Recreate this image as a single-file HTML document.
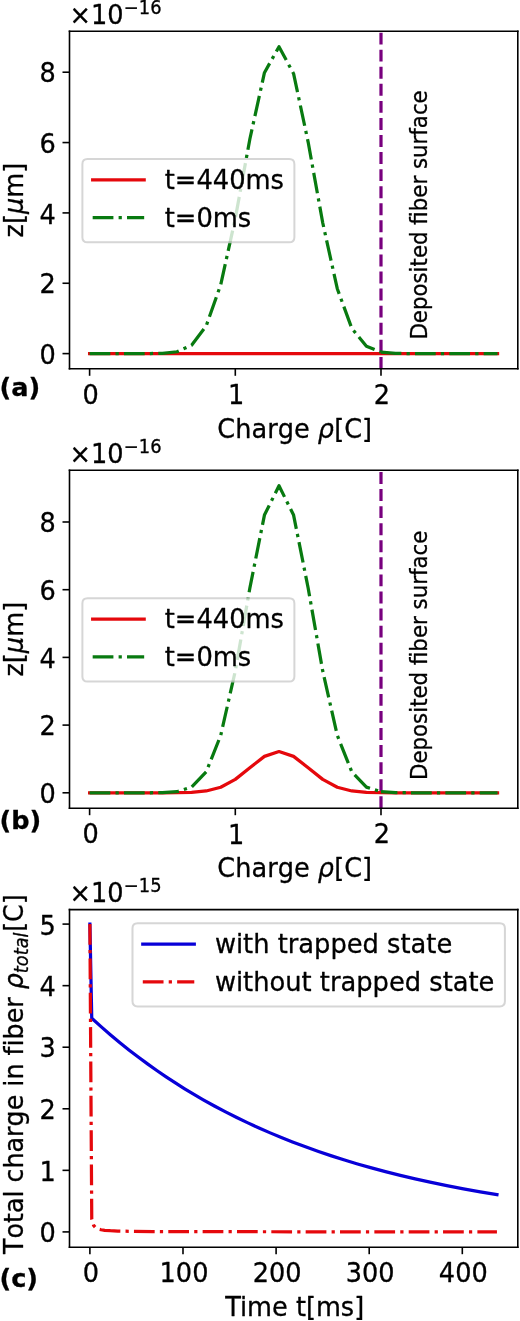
<!DOCTYPE html>
<html><head><meta charset="utf-8"><style>
html,body{margin:0;padding:0;background:#fff;}
body{width:520px;height:1321px;overflow:hidden;}
svg{display:block;}
</style></head><body>
<svg width="520" height="1321" viewBox="0 0 520 1321">
<defs>
<style type="text/css">text{stroke:#000;stroke-width:0.3px;stroke-linejoin:round}*{stroke-linejoin: round; stroke-linecap: butt}</style>
</defs>
<g id="figure_1">
<g id="patch_1">
<path d="M 0 1321 
L 520 1321 
L 520 0 
L 0 0 
z
" style="fill: #ffffff"/>
</g>
<g id="axes_1">
<g id="patch_2">
<path d="M 69.5 368.8 
L 517.8 368.8 
L 517.8 31.2 
L 69.5 31.2 
z
" style="fill: #ffffff"/>
</g>
<g id="matplotlib.axis_1">
<g id="xtick_1">
<g id="line2d_1">
<g>
<path d="M 0 0 
L 0 7 
" transform="translate(89.605752 368.8)" style="stroke: #000000; stroke-width: 1.6"/>
</g>
</g>
<g id="text_1">
<g transform="translate(82.413752 404.252) scale(1 1.06)">
<text>
<tspan x="0" y="-0.703125" style="font-size: 25.6px; font-family: 'DejaVu Sans', 'Liberation Sans', sans-serif">0</tspan>
</text>
</g>
</g>
</g>
<g id="xtick_2">
<g id="line2d_2">
<g>
<path d="M 0 0 
L 0 7 
" transform="translate(235.29961 368.8)" style="stroke: #000000; stroke-width: 1.6"/>
</g>
</g>
<g id="text_2">
<g transform="translate(228.10761 404.252) scale(1 1.06)">
<text>
<tspan x="0" y="-0.046875" style="font-size: 25.6px; font-family: 'DejaVu Sans', 'Liberation Sans', sans-serif">1</tspan>
</text>
</g>
</g>
</g>
<g id="xtick_3">
<g id="line2d_3">
<g>
<path d="M 0 0 
L 0 7 
" transform="translate(380.993468 368.8)" style="stroke: #000000; stroke-width: 1.6"/>
</g>
</g>
<g id="text_3">
<g transform="translate(373.801468 404.252) scale(1 1.06)">
<text>
<tspan x="0" y="-0.703125" style="font-size: 25.6px; font-family: 'DejaVu Sans', 'Liberation Sans', sans-serif">2</tspan>
</text>
</g>
</g>
</g>
<g id="text_4">
<g transform="translate(217.338 438.032) scale(1 1.06)">
<text>
<tspan x="0" y="-0.25" style="font-size: 25.6px; font-family: 'DejaVu Sans', 'Liberation Sans', sans-serif">C</tspan>
<tspan x="17.892456" y="-0.25" style="font-size: 25.6px; font-family: 'DejaVu Sans', 'Liberation Sans', sans-serif">h</tspan>
<tspan x="34.133301" y="-0.25" style="font-size: 25.6px; font-family: 'DejaVu Sans', 'Liberation Sans', sans-serif">a</tspan>
<tspan x="49.836121" y="-0.25" style="font-size: 25.6px; font-family: 'DejaVu Sans', 'Liberation Sans', sans-serif">r</tspan>
<tspan x="60.371399" y="-0.25" style="font-size: 25.6px; font-family: 'DejaVu Sans', 'Liberation Sans', sans-serif">g</tspan>
<tspan x="76.637268" y="-0.25" style="font-size: 25.6px; font-family: 'DejaVu Sans', 'Liberation Sans', sans-serif">e</tspan>
<tspan x="92.402649" y="-0.25" style="font-size: 25.6px; font-family: 'DejaVu Sans', 'Liberation Sans', sans-serif"> </tspan>
<tspan x="116.813965" y="-0.25" style="font-size: 25.6px; font-family: 'DejaVu Sans', 'Liberation Sans', sans-serif">[</tspan>
<tspan x="126.811218" y="-0.25" style="font-size: 25.6px; font-family: 'DejaVu Sans', 'Liberation Sans', sans-serif">C</tspan>
<tspan x="144.703674" y="-0.25" style="font-size: 25.6px; font-family: 'DejaVu Sans', 'Liberation Sans', sans-serif">]</tspan>
<tspan x="100.548096" y="-0.25" style="font-style: oblique; font-size: 25.6px; font-family: 'DejaVu Sans', 'Liberation Sans', sans-serif">ρ</tspan>
</text>
</g>
</g>
</g>
<g id="matplotlib.axis_2">
<g id="ytick_1">
<g id="line2d_4">
<g>
<path d="M 0 0 
L -7 0 
" transform="translate(69.5 353.604834)" style="stroke: #000000; stroke-width: 1.6"/>
</g>
</g>
<g id="text_5">
<g transform="translate(39.616 364.330834) scale(1 1.06)">
<text>
<tspan x="0" y="-0.703125" style="font-size: 25.6px; font-family: 'DejaVu Sans', 'Liberation Sans', sans-serif">0</tspan>
</text>
</g>
</g>
</g>
<g id="ytick_2">
<g id="line2d_5">
<g>
<path d="M 0 0 
L -7 0 
" transform="translate(69.5 283.256845)" style="stroke: #000000; stroke-width: 1.6"/>
</g>
</g>
<g id="text_6">
<g transform="translate(39.616 293.982845) scale(1 1.06)">
<text>
<tspan x="0" y="-0.703125" style="font-size: 25.6px; font-family: 'DejaVu Sans', 'Liberation Sans', sans-serif">2</tspan>
</text>
</g>
</g>
</g>
<g id="ytick_3">
<g id="line2d_6">
<g>
<path d="M 0 0 
L -7 0 
" transform="translate(69.5 212.908856)" style="stroke: #000000; stroke-width: 1.6"/>
</g>
</g>
<g id="text_7">
<g transform="translate(39.616 223.634856) scale(1 1.06)">
<text>
<tspan x="0" y="-0.046875" style="font-size: 25.6px; font-family: 'DejaVu Sans', 'Liberation Sans', sans-serif">4</tspan>
</text>
</g>
</g>
</g>
<g id="ytick_4">
<g id="line2d_7">
<g>
<path d="M 0 0 
L -7 0 
" transform="translate(69.5 142.560867)" style="stroke: #000000; stroke-width: 1.6"/>
</g>
</g>
<g id="text_8">
<g transform="translate(39.616 153.286867) scale(1 1.06)">
<text>
<tspan x="0" y="-0.703125" style="font-size: 25.6px; font-family: 'DejaVu Sans', 'Liberation Sans', sans-serif">6</tspan>
</text>
</g>
</g>
</g>
<g id="ytick_5">
<g id="line2d_8">
<g>
<path d="M 0 0 
L -7 0 
" transform="translate(69.5 72.212878)" style="stroke: #000000; stroke-width: 1.6"/>
</g>
</g>
<g id="text_9">
<g transform="translate(39.616 82.938878) scale(1 1.06)">
<text>
<tspan x="0" y="-0.703125" style="font-size: 25.6px; font-family: 'DejaVu Sans', 'Liberation Sans', sans-serif">8</tspan>
</text>
</g>
</g>
</g>
<g id="text_10">
<g transform="translate(23.24 237.376) rotate(-90) scale(1 1.06)">
<text>
<tspan x="0" y="-0.25" style="font-size: 25.6px; font-family: 'DejaVu Sans', 'Liberation Sans', sans-serif">z</tspan>
<tspan x="13.450623" y="-0.25" style="font-size: 25.6px; font-family: 'DejaVu Sans', 'Liberation Sans', sans-serif">[</tspan>
<tspan x="39.751282" y="-0.25" style="font-size: 25.6px; font-family: 'DejaVu Sans', 'Liberation Sans', sans-serif">m</tspan>
<tspan x="64.713135" y="-0.25" style="font-size: 25.6px; font-family: 'DejaVu Sans', 'Liberation Sans', sans-serif">]</tspan>
<tspan x="23.447876" y="-0.25" style="font-style: oblique; font-size: 25.6px; font-family: 'DejaVu Sans', 'Liberation Sans', sans-serif">μ</tspan>
</text>
</g>
</g>
<g id="text_11">
<g transform="translate(69.5 24.7) scale(1 1.06)">
<text>
<tspan x="0" y="-0.539062" style="font-size: 25.6px; font-family: 'DejaVu Sans', 'Liberation Sans', sans-serif">×</tspan>
<tspan x="21.470947" y="-0.539062" style="font-size: 25.6px; font-family: 'DejaVu Sans', 'Liberation Sans', sans-serif">1</tspan>
<tspan x="37.774353" y="-0.539062" style="font-size: 25.6px; font-family: 'DejaVu Sans', 'Liberation Sans', sans-serif">0</tspan>
<tspan x="54.326587" y="-10.492188" style="font-size: 17.92px; font-family: 'DejaVu Sans', 'Liberation Sans', sans-serif">−</tspan>
<tspan x="69.35625" y="-10.492188" style="font-size: 17.92px; font-family: 'DejaVu Sans', 'Liberation Sans', sans-serif">1</tspan>
<tspan x="80.768634" y="-10.492188" style="font-size: 17.92px; font-family: 'DejaVu Sans', 'Liberation Sans', sans-serif">6</tspan>
</text>
</g>
</g>
</g>
<g id="line2d_9">
<path d="M 380.993468 368.8 
L 380.993468 31.2 
" clip-path="url(#p6809639586)" style="fill: none; stroke-dasharray: 11.914,5.152; stroke-dashoffset: 0; stroke: #78007e; stroke-width: 3.22"/>
</g>
<g id="line2d_10">
<path d="M 89.605752 353.604834 
L 104.175138 353.604834 
L 118.744524 353.604834 
L 133.31391 353.604834 
L 147.883295 353.604834 
L 162.452681 353.604834 
L 177.022067 353.604834 
L 191.591453 353.604834 
L 206.160838 353.604834 
L 220.730224 353.604834 
L 235.29961 353.604834 
L 249.868996 353.604834 
L 264.438382 353.604834 
L 279.007767 353.604834 
L 293.577153 353.604834 
L 308.146539 353.604834 
L 322.715925 353.604834 
L 337.28531 353.604834 
L 351.854696 353.604834 
L 366.424082 353.604834 
L 380.993468 353.604834 
L 395.562853 353.604834 
L 410.132239 353.604834 
L 424.701625 353.604834 
L 439.271011 353.604834 
L 453.840396 353.604834 
L 468.409782 353.604834 
L 482.979168 353.604834 
L 497.548554 353.604834 
" clip-path="url(#p6809639586)" style="fill: none; stroke: #e5080c; stroke-width: 3.24; stroke-linecap: square"/>
</g>
<g id="line2d_11">
<path d="M 89.605752 353.604834 
L 104.175138 353.604833 
L 118.744524 353.604776 
L 133.31391 353.603128 
L 147.883295 353.576627 
L 162.452681 353.321034 
L 177.022067 351.746519 
L 191.591453 345.20245 
L 206.160838 325.98941 
L 220.730224 284.703504 
L 235.29961 218.378424 
L 249.868996 138.992032 
L 264.438382 72.684678 
L 279.007767 46.711732 
L 293.577153 73.676582 
L 308.146539 142.040544 
L 322.715925 222.739537 
L 337.28531 288.699973 
L 351.854696 328.525367 
L 366.424082 346.328726 
L 380.993468 352.089862 
" clip-path="url(#p6809639586)" style="fill: none; stroke-dasharray: 20.736,5.184,3.24,5.184; stroke-dashoffset: 0; stroke: #087a10; stroke-width: 3.24"/>
</g>
<g id="line2d_12">
<path d="M 380.993468 352.089862 
L 395.562853 353.390222 
L 410.132239 353.585385 
L 424.701625 353.603783 
L 439.271011 353.604803 
L 453.840396 353.604834 
L 468.409782 353.604834 
L 482.979168 353.604834 
L 497.548554 353.604834 
" clip-path="url(#p6809639586)" style="fill: none; stroke-dasharray: 20.736,5.184,3.24,5.184; stroke-dashoffset: 0.3; stroke: #087a10; stroke-width: 3.24"/>
</g>
<g id="patch_3">
<path d="M 69.5 368.8 
L 69.5 31.2 
" style="fill: none; stroke: #000000; stroke-width: 1.6; stroke-linejoin: miter; stroke-linecap: square"/>
</g>
<g id="patch_4">
<path d="M 517.8 368.8 
L 517.8 31.2 
" style="fill: none; stroke: #000000; stroke-width: 1.6; stroke-linejoin: miter; stroke-linecap: square"/>
</g>
<g id="patch_5">
<path d="M 69.5 368.8 
L 517.8 368.8 
" style="fill: none; stroke: #000000; stroke-width: 1.6; stroke-linejoin: miter; stroke-linecap: square"/>
</g>
<g id="patch_6">
<path d="M 69.5 31.2 
L 517.8 31.2 
" style="fill: none; stroke: #000000; stroke-width: 1.6; stroke-linejoin: miter; stroke-linecap: square"/>
</g>
<g id="legend_1" transform="translate(0 0.7)">
<g id="patch_7">
<path d="M 87.525 241.658672 
L 289.244063 241.658672 
Q 294.394063 241.658672 294.394063 236.508672 
L 294.394063 163.491328 
Q 294.394063 158.341328 289.244063 158.341328 
L 87.525 158.341328 
Q 82.375 158.341328 82.375 163.491328 
L 82.375 236.508672 
Q 82.375 241.658672 87.525 241.658672 
z
" style="fill: #ffffff; opacity: 0.8; stroke: #cccccc; stroke-width: 2; stroke-linejoin: miter"/>
</g>
<g id="line2d_13">
<path d="M 92.675 179.194805 
L 118.425 179.194805 
L 144.175 179.194805 
" style="fill: none; stroke: #e5080c; stroke-width: 3.24; stroke-linecap: square"/>
</g>
<g id="text_12">
<text style="font-size: 25.75px; font-family: 'DejaVu Sans', 'Liberation Sans', sans-serif; text-anchor: start" x="164.775" y="188.207305" transform="rotate(-0 164.775 188.207305) translate(164.775 188.207305) scale(1 1.06) translate(-164.775 -188.207305)">t=440ms</text>
</g>
<g id="line2d_14">
<path d="M 92.675 216.990977 
L 118.425 216.990977 
L 144.175 216.990977 
" style="fill: none; stroke-dasharray: 20.736,5.184,3.24,5.184; stroke-dashoffset: 0; stroke: #087a10; stroke-width: 3.24"/>
</g>
<g id="text_13">
<text style="font-size: 25.75px; font-family: 'DejaVu Sans', 'Liberation Sans', sans-serif; text-anchor: start" x="164.775" y="226.003477" transform="rotate(-0 164.775 226.003477) translate(164.775 226.003477) scale(1 1.06) translate(-164.775 -226.003477)">t=0ms</text>
</g>
</g>
</g>
<g id="axes_2">
<g id="patch_8">
<path d="M 69.5 808.2 
L 517.8 808.2 
L 517.8 470.2 
L 69.5 470.2 
z
" style="fill: #ffffff"/>
</g>
<g id="matplotlib.axis_3">
<g id="xtick_4">
<g id="line2d_15">
<g>
<path d="M 0 0 
L 0 7 
" transform="translate(89.605752 808.2)" style="stroke: #000000; stroke-width: 1.6"/>
</g>
</g>
<g id="text_14">
<g transform="translate(82.413752 843.652) scale(1 1.06)">
<text>
<tspan x="0" y="-0.703125" style="font-size: 25.6px; font-family: 'DejaVu Sans', 'Liberation Sans', sans-serif">0</tspan>
</text>
</g>
</g>
</g>
<g id="xtick_5">
<g id="line2d_16">
<g>
<path d="M 0 0 
L 0 7 
" transform="translate(235.29961 808.2)" style="stroke: #000000; stroke-width: 1.6"/>
</g>
</g>
<g id="text_15">
<g transform="translate(228.10761 843.652) scale(1 1.06)">
<text>
<tspan x="0" y="-0.046875" style="font-size: 25.6px; font-family: 'DejaVu Sans', 'Liberation Sans', sans-serif">1</tspan>
</text>
</g>
</g>
</g>
<g id="xtick_6">
<g id="line2d_17">
<g>
<path d="M 0 0 
L 0 7 
" transform="translate(380.993468 808.2)" style="stroke: #000000; stroke-width: 1.6"/>
</g>
</g>
<g id="text_16">
<g transform="translate(373.801468 843.652) scale(1 1.06)">
<text>
<tspan x="0" y="-0.703125" style="font-size: 25.6px; font-family: 'DejaVu Sans', 'Liberation Sans', sans-serif">2</tspan>
</text>
</g>
</g>
</g>
<g id="text_17">
<g transform="translate(217.338 877.432) scale(1 1.06)">
<text>
<tspan x="0" y="-0.25" style="font-size: 25.6px; font-family: 'DejaVu Sans', 'Liberation Sans', sans-serif">C</tspan>
<tspan x="17.892456" y="-0.25" style="font-size: 25.6px; font-family: 'DejaVu Sans', 'Liberation Sans', sans-serif">h</tspan>
<tspan x="34.133301" y="-0.25" style="font-size: 25.6px; font-family: 'DejaVu Sans', 'Liberation Sans', sans-serif">a</tspan>
<tspan x="49.836121" y="-0.25" style="font-size: 25.6px; font-family: 'DejaVu Sans', 'Liberation Sans', sans-serif">r</tspan>
<tspan x="60.371399" y="-0.25" style="font-size: 25.6px; font-family: 'DejaVu Sans', 'Liberation Sans', sans-serif">g</tspan>
<tspan x="76.637268" y="-0.25" style="font-size: 25.6px; font-family: 'DejaVu Sans', 'Liberation Sans', sans-serif">e</tspan>
<tspan x="92.402649" y="-0.25" style="font-size: 25.6px; font-family: 'DejaVu Sans', 'Liberation Sans', sans-serif"> </tspan>
<tspan x="116.813965" y="-0.25" style="font-size: 25.6px; font-family: 'DejaVu Sans', 'Liberation Sans', sans-serif">[</tspan>
<tspan x="126.811218" y="-0.25" style="font-size: 25.6px; font-family: 'DejaVu Sans', 'Liberation Sans', sans-serif">C</tspan>
<tspan x="144.703674" y="-0.25" style="font-size: 25.6px; font-family: 'DejaVu Sans', 'Liberation Sans', sans-serif">]</tspan>
<tspan x="100.548096" y="-0.25" style="font-style: oblique; font-size: 25.6px; font-family: 'DejaVu Sans', 'Liberation Sans', sans-serif">ρ</tspan>
</text>
</g>
</g>
</g>
<g id="matplotlib.axis_4">
<g id="ytick_6">
<g id="line2d_18">
<g>
<path d="M 0 0 
L -7 0 
" transform="translate(69.5 792.797897)" style="stroke: #000000; stroke-width: 1.6"/>
</g>
</g>
<g id="text_18">
<g transform="translate(39.616 803.523897) scale(1 1.06)">
<text>
<tspan x="0" y="-0.703125" style="font-size: 25.6px; font-family: 'DejaVu Sans', 'Liberation Sans', sans-serif">0</tspan>
</text>
</g>
</g>
</g>
<g id="ytick_7">
<g id="line2d_19">
<g>
<path d="M 0 0 
L -7 0 
" transform="translate(69.5 725.096345)" style="stroke: #000000; stroke-width: 1.6"/>
</g>
</g>
<g id="text_19">
<g transform="translate(39.616 735.822345) scale(1 1.06)">
<text>
<tspan x="0" y="-0.703125" style="font-size: 25.6px; font-family: 'DejaVu Sans', 'Liberation Sans', sans-serif">2</tspan>
</text>
</g>
</g>
</g>
<g id="ytick_8">
<g id="line2d_20">
<g>
<path d="M 0 0 
L -7 0 
" transform="translate(69.5 657.394792)" style="stroke: #000000; stroke-width: 1.6"/>
</g>
</g>
<g id="text_20">
<g transform="translate(39.616 668.120792) scale(1 1.06)">
<text>
<tspan x="0" y="-0.046875" style="font-size: 25.6px; font-family: 'DejaVu Sans', 'Liberation Sans', sans-serif">4</tspan>
</text>
</g>
</g>
</g>
<g id="ytick_9">
<g id="line2d_21">
<g>
<path d="M 0 0 
L -7 0 
" transform="translate(69.5 589.69324)" style="stroke: #000000; stroke-width: 1.6"/>
</g>
</g>
<g id="text_21">
<g transform="translate(39.616 600.41924) scale(1 1.06)">
<text>
<tspan x="0" y="-0.703125" style="font-size: 25.6px; font-family: 'DejaVu Sans', 'Liberation Sans', sans-serif">6</tspan>
</text>
</g>
</g>
</g>
<g id="ytick_10">
<g id="line2d_22">
<g>
<path d="M 0 0 
L -7 0 
" transform="translate(69.5 521.991688)" style="stroke: #000000; stroke-width: 1.6"/>
</g>
</g>
<g id="text_22">
<g transform="translate(39.616 532.717688) scale(1 1.06)">
<text>
<tspan x="0" y="-0.703125" style="font-size: 25.6px; font-family: 'DejaVu Sans', 'Liberation Sans', sans-serif">8</tspan>
</text>
</g>
</g>
</g>
<g id="text_23">
<g transform="translate(23.24 676.576) rotate(-90) scale(1 1.06)">
<text>
<tspan x="0" y="-0.25" style="font-size: 25.6px; font-family: 'DejaVu Sans', 'Liberation Sans', sans-serif">z</tspan>
<tspan x="13.450623" y="-0.25" style="font-size: 25.6px; font-family: 'DejaVu Sans', 'Liberation Sans', sans-serif">[</tspan>
<tspan x="39.751282" y="-0.25" style="font-size: 25.6px; font-family: 'DejaVu Sans', 'Liberation Sans', sans-serif">m</tspan>
<tspan x="64.713135" y="-0.25" style="font-size: 25.6px; font-family: 'DejaVu Sans', 'Liberation Sans', sans-serif">]</tspan>
<tspan x="23.447876" y="-0.25" style="font-style: oblique; font-size: 25.6px; font-family: 'DejaVu Sans', 'Liberation Sans', sans-serif">μ</tspan>
</text>
</g>
</g>
<g id="text_24">
<g transform="translate(69.5 463.7) scale(1 1.06)">
<text>
<tspan x="0" y="-0.539062" style="font-size: 25.6px; font-family: 'DejaVu Sans', 'Liberation Sans', sans-serif">×</tspan>
<tspan x="21.470947" y="-0.539062" style="font-size: 25.6px; font-family: 'DejaVu Sans', 'Liberation Sans', sans-serif">1</tspan>
<tspan x="37.774353" y="-0.539062" style="font-size: 25.6px; font-family: 'DejaVu Sans', 'Liberation Sans', sans-serif">0</tspan>
<tspan x="54.326587" y="-10.492188" style="font-size: 17.92px; font-family: 'DejaVu Sans', 'Liberation Sans', sans-serif">−</tspan>
<tspan x="69.35625" y="-10.492188" style="font-size: 17.92px; font-family: 'DejaVu Sans', 'Liberation Sans', sans-serif">1</tspan>
<tspan x="80.768634" y="-10.492188" style="font-size: 17.92px; font-family: 'DejaVu Sans', 'Liberation Sans', sans-serif">6</tspan>
</text>
</g>
</g>
</g>
<g id="line2d_23">
<path d="M 380.993468 808.2 
L 380.993468 470.2 
" clip-path="url(#p0fc9390d3e)" style="fill: none; stroke-dasharray: 11.914,5.152; stroke-dashoffset: 0; stroke: #78007e; stroke-width: 3.22"/>
</g>
<g id="line2d_24">
<path d="M 89.605752 792.797897 
L 104.175138 792.797896 
L 118.744524 792.797886 
L 133.31391 792.797743 
L 147.883295 792.796242 
L 162.452681 792.784043 
L 177.022067 792.707558 
L 191.591453 792.339118 
L 206.160838 790.983392 
L 220.730224 787.208828 
L 235.29961 779.390416 
L 249.868996 767.749426 
L 264.438382 756.352587 
L 279.007767 751.49995 
L 293.577153 756.352587 
L 308.146539 767.749426 
L 322.715925 779.390416 
L 337.28531 787.208828 
L 351.854696 790.983392 
L 366.424082 792.339118 
L 380.993468 792.707558 
L 395.562853 792.784043 
L 410.132239 792.796242 
L 424.701625 792.797743 
L 439.271011 792.797886 
L 453.840396 792.797896 
L 468.409782 792.797897 
L 482.979168 792.797897 
L 497.548554 792.797897 
" clip-path="url(#p0fc9390d3e)" style="fill: none; stroke: #e5080c; stroke-width: 3.24; stroke-linecap: square"/>
</g>
<g id="line2d_25">
<path d="M 89.605752 792.797897 
L 104.175138 792.797897 
L 118.744524 792.797876 
L 133.31391 792.797203 
L 147.883295 792.784878 
L 162.452681 792.648607 
L 177.022067 791.68537 
L 191.591453 787.111174 
L 206.160838 771.904479 
L 220.730224 735.392737 
L 235.29961 670.966976 
L 249.868996 587.977354 
L 264.438382 515.072126 
L 279.007767 485.771357 
L 293.577153 515.072126 
L 308.146539 587.977354 
L 322.715925 670.966976 
L 337.28531 735.392737 
L 351.854696 771.904479 
L 366.424082 787.111174 
L 380.993468 791.68537 
" clip-path="url(#p0fc9390d3e)" style="fill: none; stroke-dasharray: 20.736,5.184,3.24,5.184; stroke-dashoffset: 0; stroke: #087a10; stroke-width: 3.24"/>
</g>
<g id="line2d_26">
<path d="M 380.993468 791.68537 
L 395.562853 792.648607 
L 410.132239 792.784878 
L 424.701625 792.797203 
L 439.271011 792.797876 
L 453.840396 792.797897 
L 468.409782 792.797897 
L 482.979168 792.797897 
L 497.548554 792.797897 
" clip-path="url(#p0fc9390d3e)" style="fill: none; stroke-dasharray: 20.736,5.184,3.24,5.184; stroke-dashoffset: 4.3; stroke: #087a10; stroke-width: 3.24"/>
</g>
<g id="patch_9">
<path d="M 69.5 808.2 
L 69.5 470.2 
" style="fill: none; stroke: #000000; stroke-width: 1.6; stroke-linejoin: miter; stroke-linecap: square"/>
</g>
<g id="patch_10">
<path d="M 517.8 808.2 
L 517.8 470.2 
" style="fill: none; stroke: #000000; stroke-width: 1.6; stroke-linejoin: miter; stroke-linecap: square"/>
</g>
<g id="patch_11">
<path d="M 69.5 808.2 
L 517.8 808.2 
" style="fill: none; stroke: #000000; stroke-width: 1.6; stroke-linejoin: miter; stroke-linecap: square"/>
</g>
<g id="patch_12">
<path d="M 69.5 470.2 
L 517.8 470.2 
" style="fill: none; stroke: #000000; stroke-width: 1.6; stroke-linejoin: miter; stroke-linecap: square"/>
</g>
<g id="legend_2" transform="translate(0 0.7)">
<g id="patch_13">
<path d="M 87.525 680.858672 
L 289.244063 680.858672 
Q 294.394063 680.858672 294.394063 675.708672 
L 294.394063 602.691328 
Q 294.394063 597.541328 289.244063 597.541328 
L 87.525 597.541328 
Q 82.375 597.541328 82.375 602.691328 
L 82.375 675.708672 
Q 82.375 680.858672 87.525 680.858672 
z
" style="fill: #ffffff; opacity: 0.8; stroke: #cccccc; stroke-width: 2; stroke-linejoin: miter"/>
</g>
<g id="line2d_27">
<path d="M 92.675 618.394805 
L 118.425 618.394805 
L 144.175 618.394805 
" style="fill: none; stroke: #e5080c; stroke-width: 3.24; stroke-linecap: square"/>
</g>
<g id="text_25">
<text style="font-size: 25.75px; font-family: 'DejaVu Sans', 'Liberation Sans', sans-serif; text-anchor: start" x="164.775" y="627.407305" transform="rotate(-0 164.775 627.407305) translate(164.775 627.407305) scale(1 1.06) translate(-164.775 -627.407305)">t=440ms</text>
</g>
<g id="line2d_28">
<path d="M 92.675 656.190977 
L 118.425 656.190977 
L 144.175 656.190977 
" style="fill: none; stroke-dasharray: 20.736,5.184,3.24,5.184; stroke-dashoffset: 0; stroke: #087a10; stroke-width: 3.24"/>
</g>
<g id="text_26">
<text style="font-size: 25.75px; font-family: 'DejaVu Sans', 'Liberation Sans', sans-serif; text-anchor: start" x="164.775" y="665.203477" transform="rotate(-0 164.775 665.203477) translate(164.775 665.203477) scale(1 1.06) translate(-164.775 -665.203477)">t=0ms</text>
</g>
</g>
</g>
<g id="axes_3">
<g id="patch_14">
<path d="M 69.5 1247.2 
L 517.8 1247.2 
L 517.8 909.6 
L 69.5 909.6 
z
" style="fill: #ffffff"/>
</g>
<g id="matplotlib.axis_5">
<g id="xtick_7">
<g id="line2d_29">
<g>
<path d="M 0 0 
L 0 7 
" transform="translate(89.889969 1247.2)" style="stroke: #000000; stroke-width: 1.6"/>
</g>
</g>
<g id="text_27">
<g transform="translate(82.697969 1282.652) scale(1 1.06)">
<text>
<tspan x="0" y="-0.703125" style="font-size: 25.6px; font-family: 'DejaVu Sans', 'Liberation Sans', sans-serif">0</tspan>
</text>
</g>
</g>
</g>
<g id="xtick_8">
<g id="line2d_30">
<g>
<path d="M 0 0 
L 0 7 
" transform="translate(182.994849 1247.2)" style="stroke: #000000; stroke-width: 1.6"/>
</g>
</g>
<g id="text_28">
<g transform="translate(159.546849 1282.652) scale(1 1.06)">
<text>
<tspan x="0" y="-0.703125" style="font-size: 25.6px; font-family: 'DejaVu Sans', 'Liberation Sans', sans-serif">1</tspan>
<tspan x="16.303406" y="-0.703125" style="font-size: 25.6px; font-family: 'DejaVu Sans', 'Liberation Sans', sans-serif">0</tspan>
<tspan x="32.606812" y="-0.703125" style="font-size: 25.6px; font-family: 'DejaVu Sans', 'Liberation Sans', sans-serif">0</tspan>
</text>
</g>
</g>
</g>
<g id="xtick_9">
<g id="line2d_31">
<g>
<path d="M 0 0 
L 0 7 
" transform="translate(276.09973 1247.2)" style="stroke: #000000; stroke-width: 1.6"/>
</g>
</g>
<g id="text_29">
<g transform="translate(252.65173 1282.652) scale(1 1.06)">
<text>
<tspan x="0" y="-0.703125" style="font-size: 25.6px; font-family: 'DejaVu Sans', 'Liberation Sans', sans-serif">2</tspan>
<tspan x="16.303406" y="-0.703125" style="font-size: 25.6px; font-family: 'DejaVu Sans', 'Liberation Sans', sans-serif">0</tspan>
<tspan x="32.606812" y="-0.703125" style="font-size: 25.6px; font-family: 'DejaVu Sans', 'Liberation Sans', sans-serif">0</tspan>
</text>
</g>
</g>
</g>
<g id="xtick_10">
<g id="line2d_32">
<g>
<path d="M 0 0 
L 0 7 
" transform="translate(369.204611 1247.2)" style="stroke: #000000; stroke-width: 1.6"/>
</g>
</g>
<g id="text_30">
<g transform="translate(345.756611 1282.652) scale(1 1.06)">
<text>
<tspan x="0" y="-0.703125" style="font-size: 25.6px; font-family: 'DejaVu Sans', 'Liberation Sans', sans-serif">3</tspan>
<tspan x="16.303406" y="-0.703125" style="font-size: 25.6px; font-family: 'DejaVu Sans', 'Liberation Sans', sans-serif">0</tspan>
<tspan x="32.606812" y="-0.703125" style="font-size: 25.6px; font-family: 'DejaVu Sans', 'Liberation Sans', sans-serif">0</tspan>
</text>
</g>
</g>
</g>
<g id="xtick_11">
<g id="line2d_33">
<g>
<path d="M 0 0 
L 0 7 
" transform="translate(462.309491 1247.2)" style="stroke: #000000; stroke-width: 1.6"/>
</g>
</g>
<g id="text_31">
<g transform="translate(438.861491 1282.652) scale(1 1.06)">
<text>
<tspan x="0" y="-0.703125" style="font-size: 25.6px; font-family: 'DejaVu Sans', 'Liberation Sans', sans-serif">4</tspan>
<tspan x="16.303406" y="-0.703125" style="font-size: 25.6px; font-family: 'DejaVu Sans', 'Liberation Sans', sans-serif">0</tspan>
<tspan x="32.606812" y="-0.703125" style="font-size: 25.6px; font-family: 'DejaVu Sans', 'Liberation Sans', sans-serif">0</tspan>
</text>
</g>
</g>
</g>
<g id="text_32">
<text style="font-size: 25.6px; font-family: 'DejaVu Sans', 'Liberation Sans', sans-serif; text-anchor: middle" x="294.65" y="1316.428" transform="rotate(-0 294.65 1316.428) translate(294.65 1316.428) scale(1 1.06) translate(-294.65 -1316.428)">Time t[ms]</text>
</g>
</g>
<g id="matplotlib.axis_6">
<g id="ytick_11">
<g id="line2d_34">
<g>
<path d="M 0 0 
L -7 0 
" transform="translate(69.5 1231.902115)" style="stroke: #000000; stroke-width: 1.6"/>
</g>
</g>
<g id="text_33">
<g transform="translate(39.616 1242.628115) scale(1 1.06)">
<text>
<tspan x="0" y="-0.703125" style="font-size: 25.6px; font-family: 'DejaVu Sans', 'Liberation Sans', sans-serif">0</tspan>
</text>
</g>
</g>
</g>
<g id="ytick_12">
<g id="line2d_35">
<g>
<path d="M 0 0 
L -7 0 
" transform="translate(69.5 1170.341211)" style="stroke: #000000; stroke-width: 1.6"/>
</g>
</g>
<g id="text_34">
<g transform="translate(39.616 1181.067211) scale(1 1.06)">
<text>
<tspan x="0" y="-0.046875" style="font-size: 25.6px; font-family: 'DejaVu Sans', 'Liberation Sans', sans-serif">1</tspan>
</text>
</g>
</g>
</g>
<g id="ytick_13">
<g id="line2d_36">
<g>
<path d="M 0 0 
L -7 0 
" transform="translate(69.5 1108.780306)" style="stroke: #000000; stroke-width: 1.6"/>
</g>
</g>
<g id="text_35">
<g transform="translate(39.616 1119.506306) scale(1 1.06)">
<text>
<tspan x="0" y="-0.703125" style="font-size: 25.6px; font-family: 'DejaVu Sans', 'Liberation Sans', sans-serif">2</tspan>
</text>
</g>
</g>
</g>
<g id="ytick_14">
<g id="line2d_37">
<g>
<path d="M 0 0 
L -7 0 
" transform="translate(69.5 1047.219402)" style="stroke: #000000; stroke-width: 1.6"/>
</g>
</g>
<g id="text_36">
<g transform="translate(39.616 1057.945402) scale(1 1.06)">
<text>
<tspan x="0" y="-0.703125" style="font-size: 25.6px; font-family: 'DejaVu Sans', 'Liberation Sans', sans-serif">3</tspan>
</text>
</g>
</g>
</g>
<g id="ytick_15">
<g id="line2d_38">
<g>
<path d="M 0 0 
L -7 0 
" transform="translate(69.5 985.658497)" style="stroke: #000000; stroke-width: 1.6"/>
</g>
</g>
<g id="text_37">
<g transform="translate(39.616 996.384497) scale(1 1.06)">
<text>
<tspan x="0" y="-0.046875" style="font-size: 25.6px; font-family: 'DejaVu Sans', 'Liberation Sans', sans-serif">4</tspan>
</text>
</g>
</g>
</g>
<g id="ytick_16">
<g id="line2d_39">
<g>
<path d="M 0 0 
L -7 0 
" transform="translate(69.5 924.097593)" style="stroke: #000000; stroke-width: 1.6"/>
</g>
</g>
<g id="text_38">
<g transform="translate(39.616 934.823593) scale(1 1.06)">
<text>
<tspan x="0" y="-0.046875" style="font-size: 25.6px; font-family: 'DejaVu Sans', 'Liberation Sans', sans-serif">5</tspan>
</text>
</g>
</g>
</g>
<g id="text_39">
<g transform="translate(23.29376 1254.08896) rotate(-90) scale(1 1.06)">
<text>
<tspan x="0" y="-0" style="font-size: 25.344px; font-family: 'DejaVu Sans', 'Liberation Sans', sans-serif">T</tspan>
<tspan x="15.500061" y="-0" style="font-size: 25.344px; font-family: 'DejaVu Sans', 'Liberation Sans', sans-serif">o</tspan>
<tspan x="31.024902" y="-0" style="font-size: 25.344px; font-family: 'DejaVu Sans', 'Liberation Sans', sans-serif">t</tspan>
<tspan x="40.974182" y="-0" style="font-size: 25.344px; font-family: 'DejaVu Sans', 'Liberation Sans', sans-serif">a</tspan>
<tspan x="56.523804" y="-0" style="font-size: 25.344px; font-family: 'DejaVu Sans', 'Liberation Sans', sans-serif">l</tspan>
<tspan x="63.573792" y="-0" style="font-size: 25.344px; font-family: 'DejaVu Sans', 'Liberation Sans', sans-serif"> </tspan>
<tspan x="71.639771" y="-0" style="font-size: 25.344px; font-family: 'DejaVu Sans', 'Liberation Sans', sans-serif">c</tspan>
<tspan x="85.591064" y="-0" style="font-size: 25.344px; font-family: 'DejaVu Sans', 'Liberation Sans', sans-serif">h</tspan>
<tspan x="101.673462" y="-0" style="font-size: 25.344px; font-family: 'DejaVu Sans', 'Liberation Sans', sans-serif">a</tspan>
<tspan x="117.223083" y="-0" style="font-size: 25.344px; font-family: 'DejaVu Sans', 'Liberation Sans', sans-serif">r</tspan>
<tspan x="127.655579" y="-0" style="font-size: 25.344px; font-family: 'DejaVu Sans', 'Liberation Sans', sans-serif">g</tspan>
<tspan x="143.762756" y="-0" style="font-size: 25.344px; font-family: 'DejaVu Sans', 'Liberation Sans', sans-serif">e</tspan>
<tspan x="159.374329" y="-0" style="font-size: 25.344px; font-family: 'DejaVu Sans', 'Liberation Sans', sans-serif"> </tspan>
<tspan x="167.440308" y="-0" style="font-size: 25.344px; font-family: 'DejaVu Sans', 'Liberation Sans', sans-serif">i</tspan>
<tspan x="174.490295" y="-0" style="font-size: 25.344px; font-family: 'DejaVu Sans', 'Liberation Sans', sans-serif">n</tspan>
<tspan x="190.572693" y="-0" style="font-size: 25.344px; font-family: 'DejaVu Sans', 'Liberation Sans', sans-serif"> </tspan>
<tspan x="198.638672" y="-0" style="font-size: 25.344px; font-family: 'DejaVu Sans', 'Liberation Sans', sans-serif">f</tspan>
<tspan x="207.57196" y="-0" style="font-size: 25.344px; font-family: 'DejaVu Sans', 'Liberation Sans', sans-serif">i</tspan>
<tspan x="214.621948" y="-0" style="font-size: 25.344px; font-family: 'DejaVu Sans', 'Liberation Sans', sans-serif">b</tspan>
<tspan x="230.729126" y="-0" style="font-size: 25.344px; font-family: 'DejaVu Sans', 'Liberation Sans', sans-serif">e</tspan>
<tspan x="246.340698" y="-0" style="font-size: 25.344px; font-family: 'DejaVu Sans', 'Liberation Sans', sans-serif">r</tspan>
<tspan x="256.773193" y="-0" style="font-size: 25.344px; font-family: 'DejaVu Sans', 'Liberation Sans', sans-serif"> </tspan>
<tspan x="322.246051" y="-0" style="font-size: 25.344px; font-family: 'DejaVu Sans', 'Liberation Sans', sans-serif">[</tspan>
<tspan x="332.14577" y="-0" style="font-size: 25.344px; font-family: 'DejaVu Sans', 'Liberation Sans', sans-serif">C</tspan>
<tspan x="349.863666" y="-0" style="font-size: 25.344px; font-family: 'DejaVu Sans', 'Liberation Sans', sans-serif">]</tspan>
<tspan x="264.839172" y="-0" style="font-style: oblique; font-size: 25.344px; font-family: 'DejaVu Sans', 'Liberation Sans', sans-serif">ρ</tspan>
<tspan x="280.94635" y="4.101562" style="font-style: oblique; font-size: 17.7408px; font-family: 'DejaVu Sans', 'Liberation Sans', sans-serif">t</tspan>
<tspan x="287.910846" y="4.101562" style="font-style: oblique; font-size: 17.7408px; font-family: 'DejaVu Sans', 'Liberation Sans', sans-serif">o</tspan>
<tspan x="298.778235" y="4.101562" style="font-style: oblique; font-size: 17.7408px; font-family: 'DejaVu Sans', 'Liberation Sans', sans-serif">t</tspan>
<tspan x="305.742731" y="4.101562" style="font-style: oblique; font-size: 17.7408px; font-family: 'DejaVu Sans', 'Liberation Sans', sans-serif">a</tspan>
<tspan x="316.627466" y="4.101562" style="font-style: oblique; font-size: 17.7408px; font-family: 'DejaVu Sans', 'Liberation Sans', sans-serif">l</tspan>
</text>
</g>
</g>
<g id="text_40">
<g transform="translate(69.5 903.1) scale(1 1.06)">
<text>
<tspan x="0" y="-0.779688" style="font-size: 25.6px; font-family: 'DejaVu Sans', 'Liberation Sans', sans-serif">×</tspan>
<tspan x="21.470947" y="-0.779688" style="font-size: 25.6px; font-family: 'DejaVu Sans', 'Liberation Sans', sans-serif">1</tspan>
<tspan x="37.774353" y="-0.779688" style="font-size: 25.6px; font-family: 'DejaVu Sans', 'Liberation Sans', sans-serif">0</tspan>
<tspan x="54.326587" y="-10.732813" style="font-size: 17.92px; font-family: 'DejaVu Sans', 'Liberation Sans', sans-serif">−</tspan>
<tspan x="69.35625" y="-10.732813" style="font-size: 17.92px; font-family: 'DejaVu Sans', 'Liberation Sans', sans-serif">1</tspan>
<tspan x="80.768634" y="-10.732813" style="font-size: 17.92px; font-family: 'DejaVu Sans', 'Liberation Sans', sans-serif">5</tspan>
</text>
</g>
</g>
</g>
<g id="line2d_40">
<path d="M 89.889969 924.097593 
L 91.748665 1018.282647 
L 101.042148 1026.6668 
L 110.335631 1034.721892 
L 119.629113 1042.460837 
L 128.922596 1049.896043 
L 138.216078 1057.039432 
L 147.509561 1063.902457 
L 156.803044 1070.49612 
L 166.096526 1076.830996 
L 175.390009 1082.917239 
L 184.683491 1088.764609 
L 193.976974 1094.382481 
L 203.270457 1099.779863 
L 214.422636 1105.977833 
L 225.574815 1111.885052 
L 236.726994 1117.515157 
L 247.879173 1122.88115 
L 259.031352 1127.995419 
L 270.183531 1132.869773 
L 281.33571 1137.515467 
L 292.48789 1141.943227 
L 305.498765 1146.847116 
L 318.509641 1151.483681 
L 331.520516 1155.867496 
L 344.531392 1160.012337 
L 357.542268 1163.931233 
L 370.553143 1167.636499 
L 385.422716 1171.624412 
L 400.292288 1175.364861 
L 415.16186 1178.873201 
L 430.031432 1182.163837 
L 446.759701 1185.622363 
L 463.487969 1188.840403 
L 480.216238 1191.834678 
L 496.944507 1194.620748 
L 496.944507 1194.620748 
" clip-path="url(#p82df42fbba)" style="fill: none; stroke: #0800d8; stroke-width: 3.24; stroke-linecap: square"/>
</g>
<g id="line2d_41">
<path d="M 89.889969 924.097593 
L 91.748665 1218.95067 
L 93.607362 1225.426392 
L 95.466058 1227.584967 
L 97.324755 1228.664254 
L 99.183451 1229.311826 
L 101.042148 1229.743541 
L 104.759541 1230.283185 
L 110.335631 1230.724711 
L 117.770417 1231.038686 
L 130.781292 1231.313413 
L 153.085651 1231.52119 
L 199.553064 1231.682599 
L 311.074855 1231.79328 
L 496.944507 1231.842976 
L 496.944507 1231.842976 
" clip-path="url(#p82df42fbba)" style="fill: none; stroke-dasharray: 20.736,5.184,3.24,5.184; stroke-dashoffset: 0; stroke: #e5080c; stroke-width: 3.24"/>
</g>
<g id="patch_15">
<path d="M 69.5 1247.2 
L 69.5 909.6 
" style="fill: none; stroke: #000000; stroke-width: 1.6; stroke-linejoin: miter; stroke-linecap: square"/>
</g>
<g id="patch_16">
<path d="M 517.8 1247.2 
L 517.8 909.6 
" style="fill: none; stroke: #000000; stroke-width: 1.6; stroke-linejoin: miter; stroke-linecap: square"/>
</g>
<g id="patch_17">
<path d="M 69.5 1247.2 
L 517.8 1247.2 
" style="fill: none; stroke: #000000; stroke-width: 1.6; stroke-linejoin: miter; stroke-linecap: square"/>
</g>
<g id="patch_18">
<path d="M 69.5 909.6 
L 517.8 909.6 
" style="fill: none; stroke: #000000; stroke-width: 1.6; stroke-linejoin: miter; stroke-linecap: square"/>
</g>
<g id="legend_3" transform="translate(0 0.7)">
<g id="patch_19">
<path d="M 137.637461 1005.792344 
L 499.775 1005.792344 
Q 504.925 1005.792344 504.925 1000.642344 
L 504.925 927.625 
Q 504.925 922.475 499.775 922.475 
L 137.637461 922.475 
Q 132.487461 922.475 132.487461 927.625 
L 132.487461 1000.642344 
Q 132.487461 1005.792344 137.637461 1005.792344 
z
" style="fill: #ffffff; opacity: 0.8; stroke: #cccccc; stroke-width: 2; stroke-linejoin: miter"/>
</g>
<g id="line2d_42">
<path d="M 142.787461 943.328477 
L 168.537461 943.328477 
L 194.287461 943.328477 
" style="fill: none; stroke: #0800d8; stroke-width: 3.24; stroke-linecap: square"/>
</g>
<g id="text_41">
<text style="font-size: 25.75px; font-family: 'DejaVu Sans', 'Liberation Sans', sans-serif; text-anchor: start" x="214.887461" y="952.340977" transform="rotate(-0 214.887461 952.340977) translate(214.887461 952.340977) scale(1 1.06) translate(-214.887461 -952.340977)">with trapped state</text>
</g>
<g id="line2d_43">
<path d="M 142.787461 981.124648 
L 168.537461 981.124648 
L 194.287461 981.124648 
" style="fill: none; stroke-dasharray: 20.736,5.184,3.24,5.184; stroke-dashoffset: 0; stroke: #e5080c; stroke-width: 3.24"/>
</g>
<g id="text_42">
<text style="font-size: 25.75px; font-family: 'DejaVu Sans', 'Liberation Sans', sans-serif; text-anchor: start" x="214.887461" y="990.137148" transform="rotate(-0 214.887461 990.137148) translate(214.887461 990.137148) scale(1 1.06) translate(-214.887461 -990.137148)">without trapped state</text>
</g>
</g>
</g>
<g id="text_43">
<text style="font-size: 21.33px; font-family: 'DejaVu Sans', 'Liberation Sans', sans-serif; text-anchor: start" x="427.5" y="339.6" transform="rotate(-90 427.5 339.6) translate(427.5 339.6) scale(1 1.06) translate(-427.5 -339.6)">Deposited fiber surface</text>
</g>
<g id="text_44">
<text style="font-weight: 700; font-size: 25.6px; font-family: 'DejaVu Sans', 'Liberation Sans', sans-serif; text-anchor: start" x="-0.5" y="396" transform="rotate(-0 -0.5 396) translate(-0.5 396) scale(1 1.06) translate(--0.5 -396)">(a)</text>
</g>
<g id="text_45">
<text style="font-size: 21.33px; font-family: 'DejaVu Sans', 'Liberation Sans', sans-serif; text-anchor: start" x="427.5" y="780" transform="rotate(-90 427.5 780) translate(427.5 780) scale(1 1.06) translate(-427.5 -780)">Deposited fiber surface</text>
</g>
<g id="text_46">
<text style="font-weight: 700; font-size: 25.6px; font-family: 'DejaVu Sans', 'Liberation Sans', sans-serif; text-anchor: start" x="-0.5" y="828.7" transform="rotate(-0 -0.5 828.7) translate(-0.5 828.7) scale(1 1.06) translate(--0.5 -828.7)">(b)</text>
</g>
<g id="text_47">
<text style="font-weight: 700; font-size: 25.6px; font-family: 'DejaVu Sans', 'Liberation Sans', sans-serif; text-anchor: start" x="-0.5" y="1287" transform="rotate(-0 -0.5 1287) translate(-0.5 1287) scale(1 1.06) translate(--0.5 -1287)">(c)</text>
</g>
</g>
<defs>
<clipPath id="p6809639586">
<rect x="69.5" y="31.2" width="448.3" height="337.6"/>
</clipPath>
<clipPath id="p0fc9390d3e">
<rect x="69.5" y="470.2" width="448.3" height="338"/>
</clipPath>
<clipPath id="p82df42fbba">
<rect x="69.5" y="909.6" width="448.3" height="337.6"/>
</clipPath>
</defs>
</svg>

</body></html>
